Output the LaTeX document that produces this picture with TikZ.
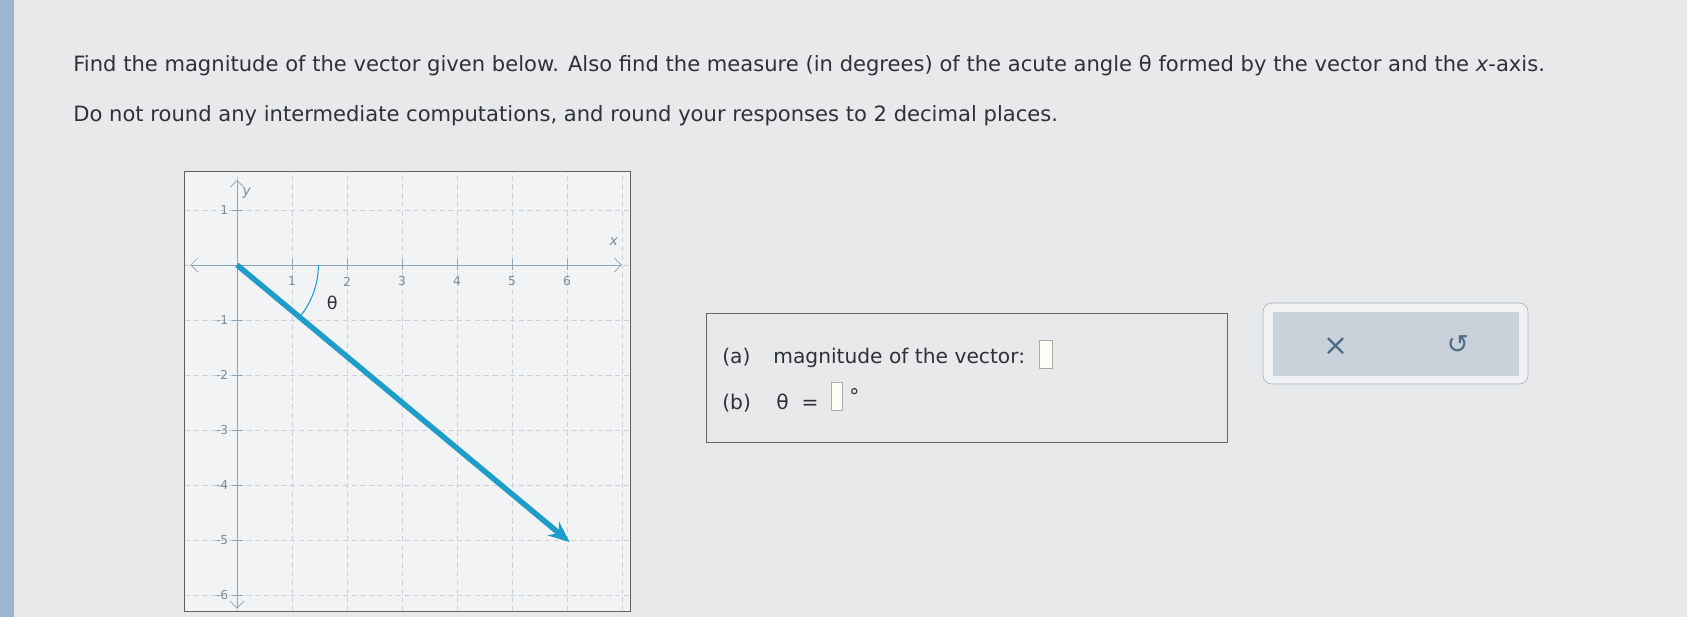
\documentclass[tikz,border=0pt]{standalone}
\usepackage{fontspec}
\setmainfont{DejaVu Sans}
\usetikzlibrary{arrows.meta}
\definecolor{pagebg}{HTML}{E8E9EB}
\definecolor{txt}{HTML}{2E3237}
\definecolor{gridc}{HTML}{CDD2D6}
\definecolor{axisc}{HTML}{8EA5B7}
\definecolor{vecc}{HTML}{1E9CCB}
\definecolor{btnfill}{HTML}{C9D2DA}
\definecolor{btnline}{HTML}{ACB6BF}
\definecolor{iconc}{HTML}{4E6C86}
\definecolor{edgec}{HTML}{9DB5CE}

\tikzset{
  prompt/.style={anchor=base west,text=txt,inner sep=0pt,font=\fontsize{12}{14}\selectfont},
  answer/.style={anchor=base west,text=txt,inner sep=0pt,font=\fontsize{11.5}{13}\selectfont},
  ticklab/.style={text=axisc!85!black,inner sep=1pt,font=\fontsize{7}{8}\selectfont},
  inbox/.style={draw=gray!65,fill=yellow!4,inner sep=0pt,minimum width=0.26cm,minimum height=0.56cm},
  vector/.style={vecc,line width=3.1pt,-{Stealth[length=12pt,width=10pt]}},
  axis/.style={axisc,thin,{Straight Barb[length=4pt]}-{Straight Barb[length=4pt]}}
}

\begin{document}
\begin{tikzpicture}[x=0.02cm,y=-0.02cm]
        \useasboundingbox (0,0) rectangle (1687,617);
        \fill[pagebg] (0,0) rectangle (1687,617);
        \fill[edgec] (0,0) rectangle (14,617);

        % question text
        \node[prompt] (line1) at (73,72) {Find the magnitude of the vector given below. Also find the measure (in degrees) of the acute angle θ formed by the vector and the \textit{x}-axis.};
        \node[prompt] (line2) at (73,122) {Do not round any intermediate computations, and round your responses to 2 decimal places.};

        % graph
        \begin{scope}[shift={(237,265)},x=1.1cm,y=1.1cm]
        \fill[pagebg!55!white] (-0.95,-6.3) rectangle (7.15,1.7);
        \draw[step=1,gridc,densely dashed] (-0.95,-6.3) grid (7.15,1.7);
        \draw[gray!75!black] (-0.95,-6.3) rectangle (7.15,1.7);
        \draw[axis] (-0.85,0) -- (7.0,0);
        \draw[axis] (0,-6.25) -- (0,1.55);
        \node[text=axisc!85!black,font=\fontsize{8}{9}\selectfont\itshape] (xlab) at (6.85,0.42) {x};
        \node[text=axisc!85!black,font=\fontsize{8}{9}\selectfont\itshape] (ylab) at (0.18,1.3) {y};
        % x ticks
        \draw[axisc] (1,-0.1) -- (1,0.1);
        \draw[axisc] (2,-0.1) -- (2,0.1);
        \draw[axisc] (3,-0.1) -- (3,0.1);
        \draw[axisc] (4,-0.1) -- (4,0.1);
        \draw[axisc] (5,-0.1) -- (5,0.1);
        \draw[axisc] (6,-0.1) -- (6,0.1);
        \node[ticklab] (x1) at (1,-0.3) {1};
        \node[ticklab] (x2) at (2,-0.3) {2};
        \node[ticklab] (x3) at (3,-0.3) {3};
        \node[ticklab] (x4) at (4,-0.3) {4};
        \node[ticklab] (x5) at (5,-0.3) {5};
        \node[ticklab] (x6) at (6,-0.3) {6};
        % y ticks
        \draw[axisc] (-0.1,1) -- (0.1,1);
        \draw[axisc] (-0.1,-1) -- (0.1,-1);
        \draw[axisc] (-0.1,-2) -- (0.1,-2);
        \draw[axisc] (-0.1,-3) -- (0.1,-3);
        \draw[axisc] (-0.1,-4) -- (0.1,-4);
        \draw[axisc] (-0.1,-5) -- (0.1,-5);
        \draw[axisc] (-0.1,-6) -- (0.1,-6);
        \node[ticklab,anchor=east] (y1) at (-0.12,1) {1};
        \node[ticklab,anchor=east] (ym1) at (-0.12,-1) {-1};
        \node[ticklab,anchor=east] (ym2) at (-0.12,-2) {-2};
        \node[ticklab,anchor=east] (ym3) at (-0.12,-3) {-3};
        \node[ticklab,anchor=east] (ym4) at (-0.12,-4) {-4};
        \node[ticklab,anchor=east] (ym5) at (-0.12,-5) {-5};
        \node[ticklab,anchor=east] (ym6) at (-0.12,-6) {-6};
        % the vector and its angle
        \coordinate (O) at (0,0);
        \coordinate (P) at (6.05,-5.04);
        \draw[vector] (O) -- (P);
        \draw[vecc,semithick] (1.48,0) arc[start angle=0,end angle=-39.8,radius=1.48];
        \node[text=txt,font=\fontsize{10}{12}\selectfont] (theta) at (1.73,-0.69) {θ};
        \end{scope}

        % answer box
        \draw[gray!80!black] (706,313) rectangle (1227,442);
        \node[answer] (parta) at (722,364) {(a)};
        \node[answer] (maga) at (773,364) {magnitude of the vector:};
        \node[inbox] (boxa) at (1046,354) {};
        \node[answer] (partb) at (722,410) {(b)};
        \node[answer] (thetab) at (776,410) {θ\ \ =};
        \node[inbox,minimum width=0.22cm] (boxb) at (837,396) {};
        \node[answer] (deg) at (849,404) {°};

        % buttons
        \draw[btnline,fill=pagebg!60!white,rounded corners=5pt] (1263,303) rectangle (1528,384);
        \fill[btnfill] (1273,312) rectangle (1519,376);
        \node[text=iconc,font=\fontsize{17}{18}\selectfont] (clear) at (1336,347) {×};
        \node[text=iconc,font=\fontsize{15}{16}\selectfont] (undo) at (1458,345) {↺};
\end{tikzpicture}
\end{document}
